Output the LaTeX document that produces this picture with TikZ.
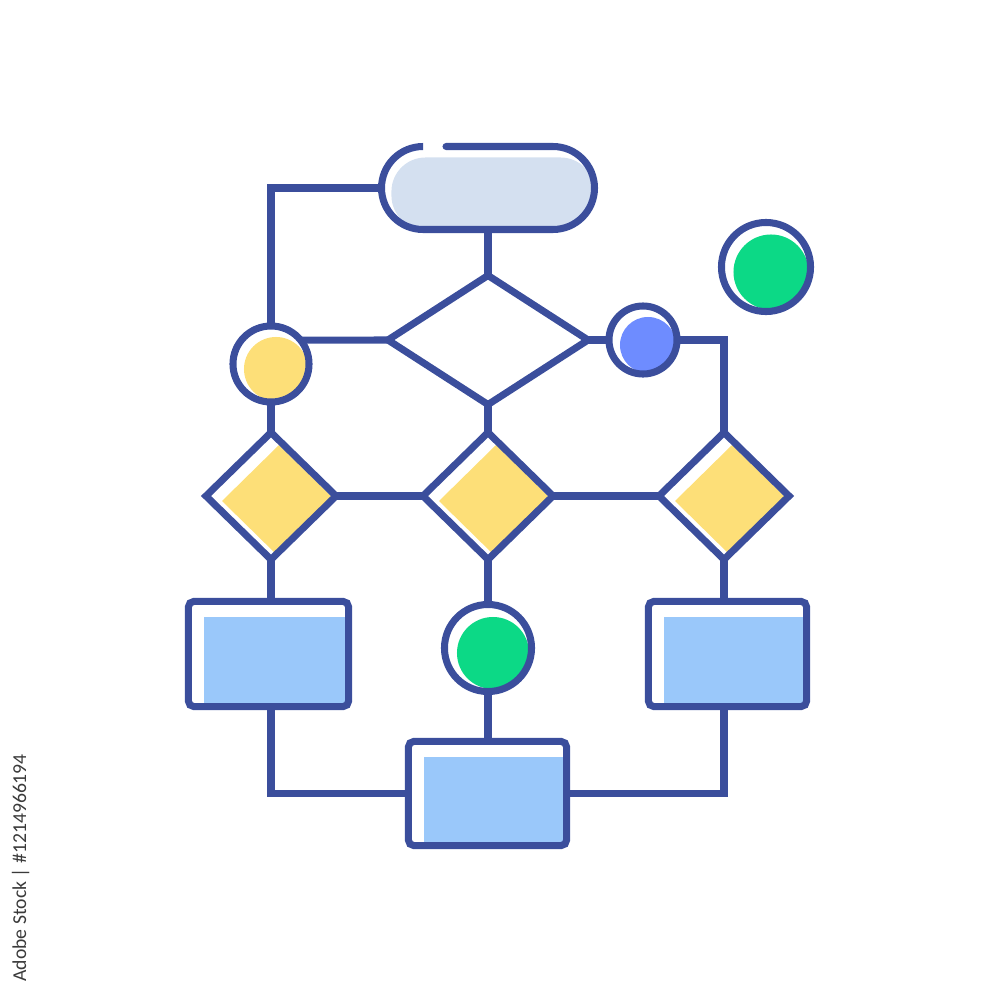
\documentclass[tikz,border=0pt]{standalone}
\usepackage{fontspec}
\setmainfont{Carlito}
\usetikzlibrary{shapes.geometric,calc}
\definecolor{ink}{HTML}{3B4E9C}
\definecolor{pillfill}{HTML}{D4E0F0}
\definecolor{yelfill}{HTML}{FDDF78}
\definecolor{bluefill}{HTML}{6E8CFF}
\definecolor{greenfill}{HTML}{0CD986}
\definecolor{boxfill}{HTML}{9AC8FA}
\definecolor{credit}{HTML}{3A3A3A}
\begin{document}
\begin{tikzpicture}[x=0.01cm,y=-0.01cm,line width=2pt,
  conn/.style={draw=ink,line width=2pt},
  shapebase/.style={draw=ink,line width=2pt,inner sep=0pt,outer sep=0pt},
  dot/.style n args={3}{shapebase,circle,minimum size=#1,
    path picture={\fill[#2] ([shift={(5,5)}]path picture bounding box.center) circle[radius=#3];}},
  ydiam/.style={shapebase,diamond,minimum width=1.30cm,minimum height=1.27cm,
    path picture={\fill[yelfill] ([shift={(8,5)}]path picture bounding box.center)
      ++(-57,0) -- ++(57,-56) -- ++(57,56) -- ++(-57,56) -- cycle;}},
  bigdiam/.style={shapebase,diamond,fill=white,minimum width=2.0cm,minimum height=1.29cm},
  box/.style n args={2}{shapebase,rectangle,rounded corners=1.5pt,minimum width=#1,minimum height=#2,
    path picture={\fill[boxfill,sharp corners] ([shift={(16,16)}]path picture bounding box.north west) rectangle (path picture bounding box.south east);}},
  pill/.style={rectangle,rounded corners=0.415cm,inner sep=0pt,outer sep=0pt,
    minimum width=2.13cm,minimum height=0.83cm,
    path picture={\fill[pillfill,rounded corners=0.34cm] ([shift={(10,11)}]path picture bounding box.north west) rectangle (path picture bounding box.south east);}}
]
\useasboundingbox (0,0) rectangle (1000,1000);

% nodes
\node[pill] (start) at (488,188) {};
\node[bigdiam] (dq) at (488,340) {};
\node[dot={0.76cm}{yelfill}{0.32cm}] (yc) at (271,364) {};
\node[dot={0.68cm}{bluefill}{0.28cm}] (bc) at (643,340) {};
\node[dot={0.89cm}{greenfill}{0.375cm}] (gt) at (766,267) {};
\node[ydiam] (ld) at (271,496) {};
\node[ydiam] (md) at (488,496) {};
\node[ydiam] (rd) at (724,496) {};
\node[dot={0.87cm}{greenfill}{0.36cm}] (gc) at (488,648) {};
\node[box={1.60cm}{1.05cm}] (lr) at (268.5,654) {};
\node[box={1.58cm}{1.05cm}] (rr) at (727.5,654) {};
\node[box={1.58cm}{1.04cm}] (mr) at (487.5,793.5) {};

% pill outline with its small gap
\draw[ink,line cap=round,rounded corners=0.415cm]
  (446,146.5) -- (594.5,146.5) -- (594.5,229.5) -- (381.5,229.5) -- (381.5,146.5) -- (423,146.5);

% connectors
\draw[conn] (start.west) -| (yc.north);
\draw[conn] (start.south) -- (dq.north);
\draw[conn] (dq.west) -- (yc.39);
\draw[conn] (dq.east) -- (bc.west);
\draw[conn] (bc.east) -| (rd.north);
\draw[conn] (yc.south) -- (ld.north);
\draw[conn] (dq.south) -- (md.north);
\draw[conn] (ld.east) -- (md.west);
\draw[conn] (md.east) -- (rd.west);
\draw[conn] (ld.south) -- (ld.south |- lr.north);
\draw[conn] (md.south) -- (gc.north);
\draw[conn] (gc.south) -- (gc.south |- mr.north);
\draw[conn] (rd.south) -- (rd.south |- rr.north);
\draw[conn] (ld.south |- lr.south) |- (mr.west);
\draw[conn] (rd.south |- rr.south) |- (mr.east);

% credit line
\node[rotate=90,anchor=base west,inner sep=0pt,text=credit,font=\fontsize{5.6}{6.5}\selectfont]
  (credittext) at (26,985) {Adobe Stock | \#1214966194};
\end{tikzpicture}
\end{document}
